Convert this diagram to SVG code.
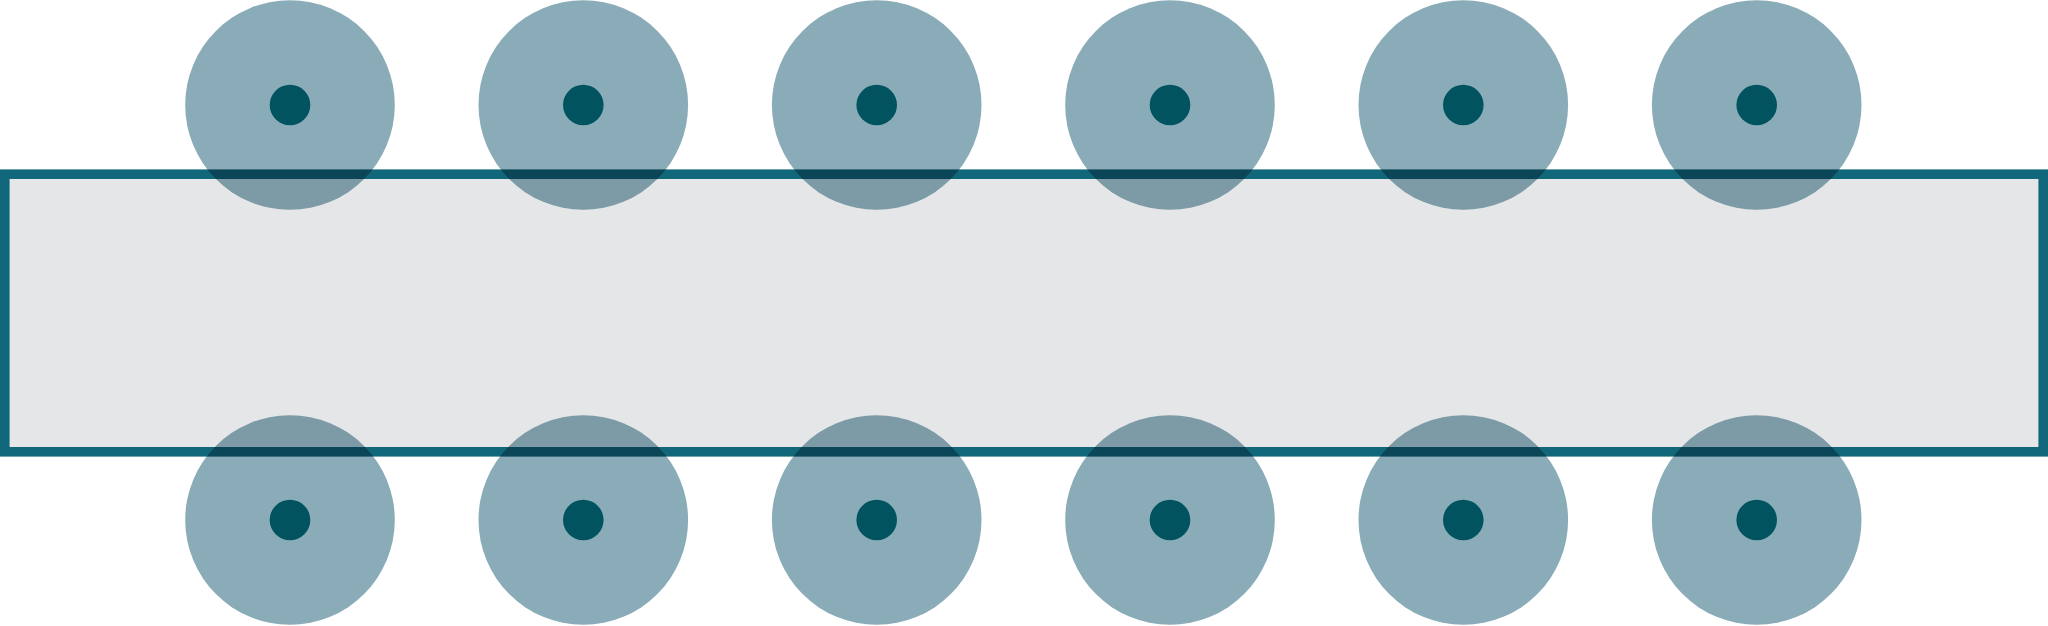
<svg xmlns="http://www.w3.org/2000/svg" width="2048" height="626" viewBox="0 0 2048 626">
<style>
.board{fill:#e5e6e7;stroke:#11687a;stroke-width:9.6}
.pad{fill:#8aacb8;mix-blend-mode:multiply}
.hole{fill:#01535f}
</style>
<rect width="2048" height="626" fill="#ffffff"/>
<g id="board"><rect class="board" x="4.8" y="174.2" width="2038.4" height="277.6"/></g>
<g id="pins-top">
<g id="pin-t1"><circle class="pad" cx="290" cy="105" r="104.8"/><circle class="hole" cx="290" cy="105" r="20.3"/></g>
<g id="pin-t2"><circle class="pad" cx="583.3" cy="105" r="104.8"/><circle class="hole" cx="583.3" cy="105" r="20.3"/></g>
<g id="pin-t3"><circle class="pad" cx="876.7" cy="105" r="104.8"/><circle class="hole" cx="876.7" cy="105" r="20.3"/></g>
<g id="pin-t4"><circle class="pad" cx="1170" cy="105" r="104.8"/><circle class="hole" cx="1170" cy="105" r="20.3"/></g>
<g id="pin-t5"><circle class="pad" cx="1463.3" cy="105" r="104.8"/><circle class="hole" cx="1463.3" cy="105" r="20.3"/></g>
<g id="pin-t6"><circle class="pad" cx="1756.7" cy="105" r="104.8"/><circle class="hole" cx="1756.7" cy="105" r="20.3"/></g>
</g>
<g id="pins-bottom">
<g id="pin-b1"><circle class="pad" cx="290" cy="520" r="104.8"/><circle class="hole" cx="290" cy="520" r="20.3"/></g>
<g id="pin-b2"><circle class="pad" cx="583.3" cy="520" r="104.8"/><circle class="hole" cx="583.3" cy="520" r="20.3"/></g>
<g id="pin-b3"><circle class="pad" cx="876.7" cy="520" r="104.8"/><circle class="hole" cx="876.7" cy="520" r="20.3"/></g>
<g id="pin-b4"><circle class="pad" cx="1170" cy="520" r="104.8"/><circle class="hole" cx="1170" cy="520" r="20.3"/></g>
<g id="pin-b5"><circle class="pad" cx="1463.3" cy="520" r="104.8"/><circle class="hole" cx="1463.3" cy="520" r="20.3"/></g>
<g id="pin-b6"><circle class="pad" cx="1756.7" cy="520" r="104.8"/><circle class="hole" cx="1756.7" cy="520" r="20.3"/></g>
</g>
<g id="connectors"/>
</svg>
